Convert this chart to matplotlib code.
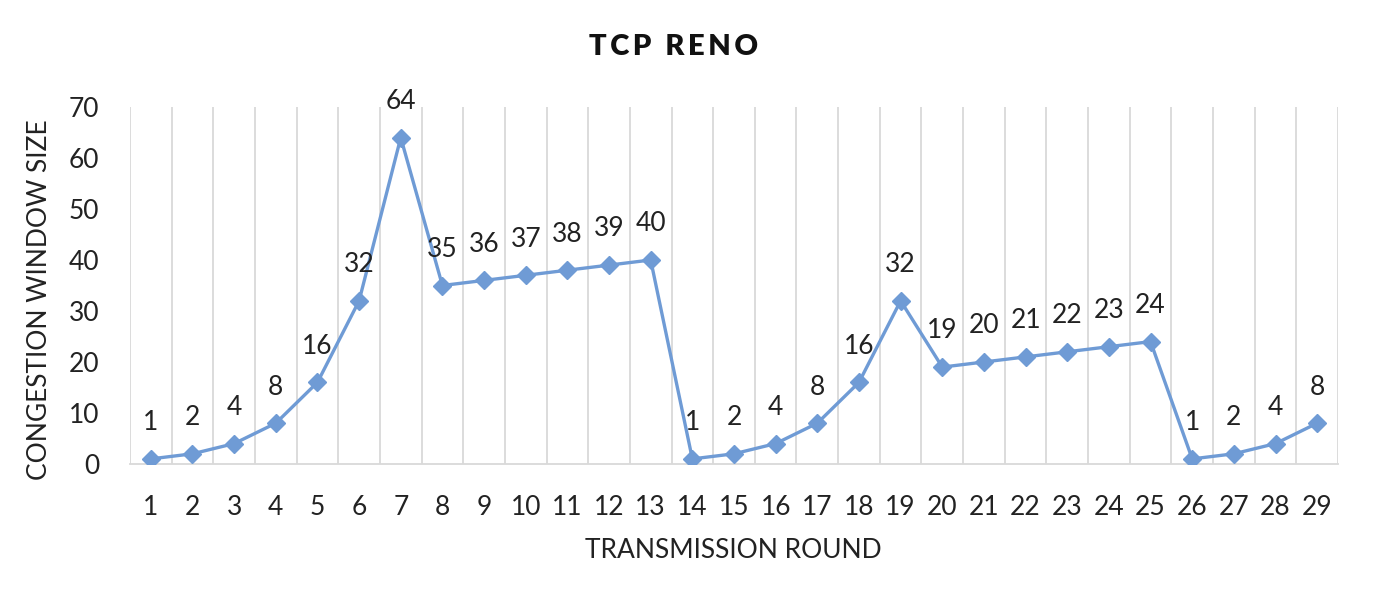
import matplotlib
matplotlib.use("Agg")
import matplotlib.pyplot as plt
from matplotlib.ticker import FixedLocator, NullFormatter

rounds = list(range(1, 30))
cwnd = [1, 2, 4, 8, 16, 32, 64, 35, 36, 37, 38, 39, 40,
        1, 2, 4, 8, 16, 32, 19, 20, 21, 22, 23, 24,
        1, 2, 4, 8]
yticks = [0, 10, 20, 30, 40, 50, 60, 70]
title = "TCP RENO"
xlabel = "TRANSMISSION ROUND"
ylabel = "CONGESTION WINDOW SIZE"

plt.rcParams['font.family'] = ['Lato', 'DejaVu Sans']
fig = plt.figure(figsize=(13.78, 5.90), dpi=100)
ax = fig.add_axes([130/1378, 1-464/590, (1338-130)/1378, (464-107)/590])

line_color = '#6F9BD5'
txt_color = '#222222'
ax.plot(rounds, cwnd, color=line_color, lw=2.4, marker='D', ms=9,
        markerfacecolor=line_color, markeredgecolor=line_color, zorder=3)
for x, v in zip(rounds, cwnd):
    ax.annotate(str(v), (x, v), xytext=(0, 26), textcoords='offset points',
                ha='center', va='center', fontsize=19, color=txt_color)

ax.set_xlim(0.5, len(rounds) + 0.5)
ax.set_ylim(0, 70)
ax.set_xticks(rounds)
ax.set_xticklabels([str(r) for r in rounds])
ax.set_yticks(yticks)
ax.xaxis.set_minor_locator(FixedLocator([r + 0.5 for r in range(0, len(rounds) + 1)]))
ax.xaxis.set_minor_formatter(NullFormatter())
ax.grid(which='minor', axis='x', color='#D9D9D9', lw=1.3)
ax.grid(which='major', axis='both', visible=False)
ax.tick_params(axis='both', which='both', length=0, labelsize=19, colors=txt_color)
ax.tick_params(axis='x', pad=22)
ax.tick_params(axis='y', pad=22)
for s in ['top', 'right', 'left']:
    ax.spines[s].set_visible(False)
ax.spines['bottom'].set_color('#D9D9D9')
ax.spines['bottom'].set_linewidth(1.3)

fig.text(733/1378, 1-550/590, xlabel, ha='center', va='center', fontsize=19, color=txt_color)
fig.text(40/1378, 1-300/590, ylabel, ha='center', va='center', rotation=90,
         fontsize=19, color=txt_color)
fig.text(674/1378, 1-47/590, "\u2009".join(title), ha='center', va='center', fontsize=21,
         fontweight='heavy', color='#111111')

fig.savefig('out.png', dpi=100, facecolor='white')
